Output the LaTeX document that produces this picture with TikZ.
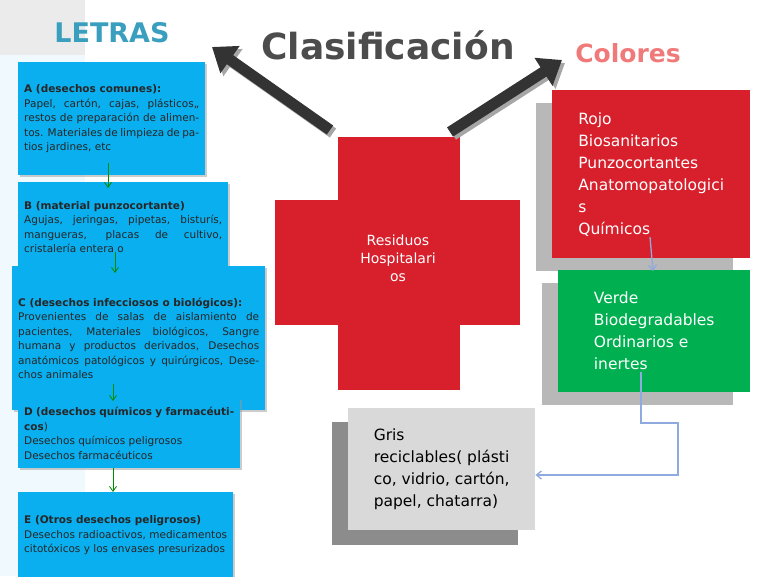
\documentclass[tikz,border=0pt]{standalone}
\usepackage{fontspec}
\setmainfont{DejaVu Sans}
\usetikzlibrary{positioning,arrows.meta,shadows}
\definecolor{cajaazul}{HTML}{0AAFEF}
\definecolor{rojocruz}{HTML}{D8202C}
\definecolor{verdecaja}{HTML}{00AF50}
\definecolor{grisclaro}{HTML}{D9D9D9}
\definecolor{tituloletras}{HTML}{3A9FBF}
\definecolor{titulocolores}{HTML}{F07A7A}
\tikzset{
  letra/.style = {fill=cajaazul, anchor=north west, inner xsep=6pt, inner ysep=3pt,
    align=justify, font=\fontsize{10.5}{14.5}\selectfont, text=black!85,
    drop shadow={shadow xshift=2pt, shadow yshift=-2pt, fill=black!40}},
  caja/.style = {anchor=north west, inner xsep=7pt, inner ysep=4pt, align=left,
    font=\fontsize{15.5}{22}\selectfont},
  sombra/.style = {fill=black!28},
  flechaverde/.style = {draw=green!55!black, thick, -{Straight Barb[length=5pt,width=7pt]}},
  flechaceleste/.style = {draw=cyan!45!blue!45, line width=1.3pt, -{Straight Barb[length=5pt,width=8pt]}},
  flechagrande/.style = {draw=black!80, line width=11pt, -{Triangle[length=22pt,width=32pt]}},
}
\begin{document}
\begin{tikzpicture}[x=1pt, y=-1pt]
\useasboundingbox (0,0) rectangle (768,576);
% fondo
\fill[cyan!6] (0,0) rectangle (85,576);
\fill[black!8] (0,0) rectangle (85,55);

% titulos
\node[font=\fontsize{36}{40}\selectfont\bfseries, text=black!70] (titulo) at (388,45) {Clasificación};
\node[font=\fontsize{27}{30}\selectfont\bfseries, text=tituloletras] (letras) at (112,33) {LETRAS};
\node[font=\fontsize{25}{28}\selectfont\bfseries, text=titulocolores] (colores) at (628,53) {Colores};

% cruz
\fill[rojocruz] (338,137) rectangle (460,390);
\fill[rojocruz] (275,200) rectangle (520,325);
\node[text=white, align=center, font=\fontsize{14}{18}\selectfont] (residuos) at (398,258) {Residuos\\Hospitalari\\os};
\coordinate (cruzizq) at (330,130);
\coordinate (cruzder) at (450,132);

% flechas grandes
\draw[flechagrande, draw=black!35] (cruzizq) ++(3,3) -- ++(-118,-83);
\draw[flechagrande, draw=black!35] (cruzder) ++(3,3) -- ++(112,-72);
\draw[flechagrande] (cruzizq) -- (212,47);
\draw[flechagrande] (cruzder) -- (562,60);

% letras
\node[letra, text width=175pt, minimum height=113pt] (A) at (18,62)
  {\textbf{A (desechos comunes):}\\ Papel, cartón, cajas, plásticos,, restos de preparación de alimentos. Materiales de limpieza de patios jardines, etc};
\node[letra, text width=198pt, minimum height=90pt] (B) at (18,182)
  {\textbf{B (material punzocortante)}\\ Agujas, jeringas, pipetas, bisturís, mangueras, placas de cultivo, cristalería entera o};
\node[letra, text width=241pt, minimum height=144pt, inner xsep=6pt] (C) at (12,266)
  {\textbf{C (desechos infecciosos o biológicos):}\\ Provenientes de salas de aislamiento de pacientes, Materiales biológicos, Sangre humana y productos derivados, Desechos anatómicos patológicos y quirúrgicos, Desechos animales};
\node[letra, text width=210pt, minimum height=70pt] (D) at (18,398)
  {\textbf{D (desechos químicos y farmacéuticos})\\ Desechos químicos peligrosos\\ Desechos farmacéuticos};
\node[letra, text width=203pt, minimum height=86pt] (E) at (18,492)
  {\textbf{E (Otros desechos peligrosos)}\\ Desechos radioactivos, medicamentos citotóxicos y los envases presurizados};

\coordinate (ab) at (108,163);
\coordinate (bc) at (115,252);
\coordinate (cd) at (113,384);
\draw[flechaverde] (ab) -- (108,188);
\draw[flechaverde] (bc) -- (115,273);
\draw[flechaverde] (cd) -- (113,401);
\draw[flechaverde] (D.south -| cd) -- (E.north -| cd);

% colores
\fill[sombra] (536,103) rectangle (733,271);
\node[caja, fill=rojocruz, text=white, minimum width=198pt, minimum height=168pt] (rojo) at (552,90)
  {Rojo\\Biosanitarios\\Punzocortantes\\Anatomopatologici\\s\\Químicos};
\fill[sombra] (542,283) rectangle (733,405);
\node[caja, fill=verdecaja, text=white, minimum width=192pt, minimum height=122pt] (verde) at (558,270)
  {Verde\\Biodegradables\\Ordinarios e\\inertes};
\fill[black!45] (332,422) rectangle (518,545);
\node[caja, fill=grisclaro, text=black, minimum width=187pt, minimum height=122pt] (gris) at (348,408)
  {Gris\\reciclables( plásti\\co, vidrio, cartón,\\papel, chatarra)};

\coordinate (rojobajo) at (650,237);
\coordinate (verdebajo) at (641,372);
\draw[flechaceleste] (rojobajo) -- (653,271);
\draw[flechaceleste] (verdebajo) -- (641,423) -- (678,423) -- (678,475) -- (gris.east |- 0,475);
\end{tikzpicture}
\end{document}
